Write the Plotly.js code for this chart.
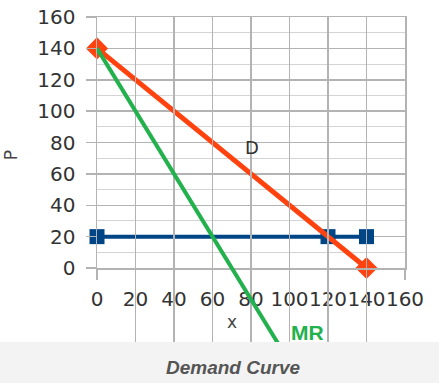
<!DOCTYPE html>
<html>
<head>
<meta charset="utf-8">
<script src="https://cdn.plot.ly/plotly-3.0.1.min.js"></script>
<style>html,body{margin:0;padding:0;background:#fff;}</style>
</head>
<body>
<div id="chart" style="width:439px;height:383px;"></div>
<script>
// Data
const demandX = [0, 140];
const demandP = [140, 0];
const mcX = [0, 120, 140];
const mcP = [20, 20, 20];
const mrX = [0, 94];
const mrP = [140, -48];
const tickVals = [0, 20, 40, 60, 80, 100, 120, 140, 160];
const caption = "Demand Curve";
const xTitle = "x";
const yTitle = "P";

const grid = '#b3b3b3';
const FONT = 'DejaVu Sans, sans-serif';
const tickFont = {family: FONT, size: 20, color: '#333'};

const traces = [
  {x: mcX, y: mcP, type: 'scatter', mode: 'lines+markers', xaxis: 'x', yaxis: 'y',
   line: {color: '#004586', width: 4},
   marker: {symbol: 'square', size: 15, color: '#004586'}, cliponaxis: false, hoverinfo: 'none'},
  {x: demandX, y: demandP, type: 'scatter', mode: 'lines+markers', xaxis: 'x', yaxis: 'y',
   line: {color: '#ff420e', width: 5},
   marker: {symbol: 'diamond', size: 17, color: '#ff420e'}, cliponaxis: false, hoverinfo: 'none'},
  {x: mrX, y: mrP, type: 'scatter', mode: 'lines', xaxis: 'x', yaxis: 'y2',
   line: {color: '#22b14c', width: 4}, hoverinfo: 'none'}
];

const layout = {
  width: 439, height: 383,
  margin: {l: 97, r: 34, t: 17, b: 41, pad: 0},
  paper_bgcolor: '#ffffff',
  plot_bgcolor: 'rgba(0,0,0,0)',
  showlegend: false,
  xaxis: {
    range: [0, 160], tickvals: tickVals, ticktext: tickVals.map(String),
    showgrid: true, gridcolor: grid, gridwidth: 1.5,
    ticks: 'outside', ticklen: 10, tickcolor: grid, tickwidth: 1.5,
    zeroline: false, showline: true, linecolor: grid, linewidth: 1.5, mirror: true,
    tickfont: tickFont, ticklabelstandoff: 2, tickangle: 0,
    anchor: 'y'
  },
  yaxis: {
    domain: [74/325, 1],
    range: [0, 160], tickvals: tickVals, ticktext: tickVals.map(String),
    showgrid: true, gridcolor: grid, gridwidth: 1.5,
    minor: {dtick: 10, showgrid: true, gridcolor: '#d4d4d4', gridwidth: 1},
    ticks: 'outside', ticklen: 10, tickcolor: grid, tickwidth: 1.5,
    zeroline: false, showline: true, linecolor: grid, linewidth: 1.5, mirror: true,
    tickfont: tickFont, ticklabelstandoff: 6,
    anchor: 'x'
  },
  yaxis2: {
    domain: [0, 1], range: [-47.2, 160], visible: false, anchor: 'x', fixedrange: true
  },
  shapes: [
    {type: 'rect', xref: 'paper', yref: 'paper', x0: -0.4, x1: 1.2, y0: -0.2, y1: 0,
     fillcolor: '#f3f3f3', line: {width: 0}, layer: 'below'}
  ],
  annotations: [
    {xref: 'paper', yref: 'paper', x: -0.279, y: 0.575, text: yTitle, textangle: -90, showarrow: false,
     xanchor: 'center', yanchor: 'middle',
     font: {family: FONT, size: 17, color: '#444'}},
    {xref: 'paper', yref: 'paper', x: 0.438, y: 0.0615, text: xTitle, showarrow: false,
     xanchor: 'center', yanchor: 'middle',
     font: {family: FONT, size: 17, color: '#444'}},
    {xref: 'x', yref: 'y', x: 80.5, y: 77, text: 'D', showarrow: false,
     font: {family: FONT, size: 18, color: '#333'}},
    {xref: 'x', yref: 'y', x: 162.6, y: 23.3, text: 'MC', showarrow: false,
     font: {family: FONT, size: 19, color: '#444'}},
    {xref: 'x', yref: 'y2', x: 109.5, y: -41.4, text: 'MR', showarrow: false,
     font: {family: 'Liberation Sans, Arial, sans-serif', size: 21, color: '#22b14c', weight: 'bold'}},
    {xref: 'paper', yref: 'paper', x: 0.443, y: -0.0785, text: caption, showarrow: false,
     xanchor: 'center', yanchor: 'middle',
     font: {family: 'Liberation Sans, Arial, sans-serif', size: 19, color: '#555', style: 'italic', weight: 'bold'}}
  ]
};

Plotly.newPlot('chart', traces, layout, {staticPlot: true, displayModeBar: false});
</script>
</body>
</html>
